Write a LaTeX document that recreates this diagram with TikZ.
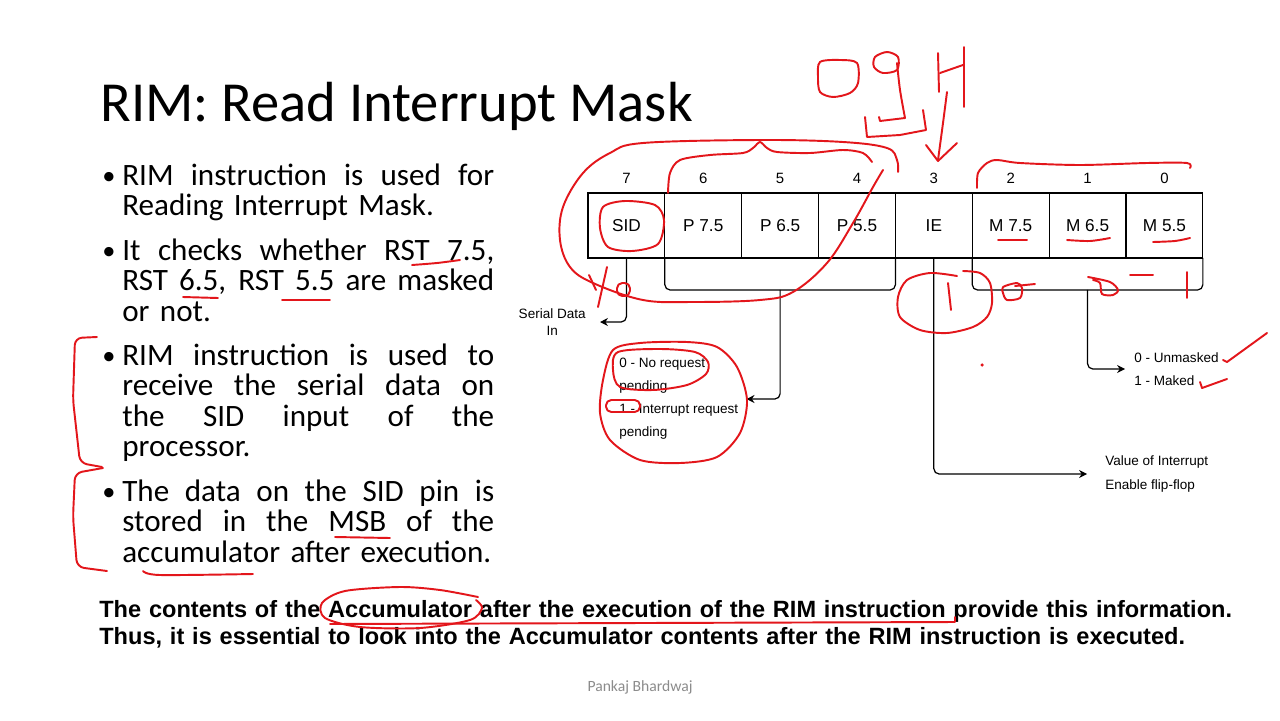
\documentclass[tikz,border=0pt]{standalone}
\usepackage{fontspec}
\setmainfont{Carlito}
\newfontfamily\arialf{Liberation Sans}
\usetikzlibrary{positioning,calc,arrows.meta}
\definecolor{inkred}{HTML}{E3161B}
\definecolor{footgray}{HTML}{8C8C8C}
\newcommand{\jline}[1]{\makebox[7.44cm][s]{\spaceskip=0.23em plus 3em\relax#1}}

\tikzset{
  cell/.style={draw, line width=0.7pt, minimum width=1.5375cm, minimum height=1.3cm,
    outer sep=0pt, inner sep=0pt, font=\arialf\fontsize{9.8}{11}\selectfont},
  bitno/.style={inner sep=0pt, font=\arialf\fontsize{8.5}{10}\selectfont},
  note/.style={inner sep=0pt, align=left, font=\arialf\fontsize{7.7}{13.1}\selectfont},
  wire/.style={line width=0.7pt, rounded corners=3pt},
  bul/.style={anchor=base west, inner sep=0pt, font=\fontsize{15}{17.4}\selectfont},
  item/.style={anchor=base west, inner sep=0pt, text width=7.44cm, align=left,
    font=\fontsize{17.7}{17.4}\selectfont},
  ink/.style={draw=inkred, line width=1.1pt, line cap=round, line join=round},
}

\begin{document}
\begin{tikzpicture}[x=0.02cm, y=-0.02cm, >={Stealth[length=4.5pt,width=4.5pt]}]
  \useasboundingbox (0,0) rectangle (1280,720);
  \fill[white] (0,0) rectangle (1280,720);

  % title and bullets
  \node[anchor=base west, inner sep=0pt, font=\fontsize{32.2}{40}\selectfont] (title) at (100,121) {RIM: Read Interrupt Mask};

  \node[bul] (d1) at (102,184) {•};
  \node[item] (t1) at (122,185) {\jline{RIM instruction is used for}\\Reading Interrupt Mask.};
  \node[bul] (d2) at (102,259) {•};
  \node[item] (t2) at (122,260) {\jline{It checks whether RST 7.5,}\\\jline{RST 6.5, RST 5.5 are masked}\\or not.};
  \node[bul] (d3) at (102,364) {•};
  \node[item] (t3) at (122,365) {\jline{RIM instruction is used to}\\\jline{receive the serial data on}\\\jline{the SID input of the}\\processor.};
  \node[bul] (d4) at (102,500) {•};
  \node[item] (t4) at (122,501) {\jline{The data on the SID pin is}\\\jline{stored in the MSB of the}\\accumulator after execution.};

  % register
  \node[cell] (sid) at (626.4,225.5) {SID};
  \node[cell, right=0pt of sid] (p75) {P 7.5};
  \node[cell, right=0pt of p75] (p65) {P 6.5};
  \node[cell, right=0pt of p65] (p55) {P 5.5};
  \node[cell, right=0pt of p55] (ie) {IE};
  \node[cell, right=0pt of ie] (m75) {M 7.5};
  \node[cell, right=0pt of m75] (m65) {M 6.5};
  \node[cell, right=0pt of m65] (m55) {M 5.5};

  \node[bitno, above=0.18cm of sid] (b7) {7};
  \node[bitno, above=0.18cm of p75] (b6) {6};
  \node[bitno, above=0.18cm of p65] (b5) {5};
  \node[bitno, above=0.18cm of p55] (b4) {4};
  \node[bitno, above=0.18cm of ie] (b3) {3};
  \node[bitno, above=0.18cm of m75] (b2) {2};
  \node[bitno, above=0.18cm of m65] (b1) {1};
  \node[bitno, above=0.18cm of m55] (b0) {0};

  % notes
  \node[note, align=center, anchor=east, font=\arialf\fontsize{7.7}{9.7}\selectfont] (serial) at (586,322) {Serial Data\\In};
  \node[note, anchor=west] (pend) at (619,399) {0 - No request\\pending\\1 - Interrupt request\\pending};
  \node[note, anchor=west] (mask) at (1134,369) {0 - Unmasked\\1 - Maked};
  \node[note, anchor=west] (iff) at (1105,474) {Value of Interrupt\\Enable flip-flop};

  % brackets and arrows
  \draw[wire] (p75.south west) -- ++(0,32) -| (p55.south east);
  \draw[wire] (m75.south west) -- ++(0,32) -| (m55.south east);
  \coordinate (pmid) at ($(p75.south west)!.5!(p55.south east)+(0,32)$);
  \coordinate (mmid) at ($(m75.south west)!.5!(m55.south east)+(0,32)$);
  \draw[wire, ->, shorten >=0.28cm] (sid.south) |- (serial.east);
  \draw[wire, ->, shorten >=0.16cm] (pmid) |- (pend.east);
  \draw[wire, ->, shorten >=0.18cm] (mmid) |- (mask.west);
  \draw[wire, ->, shorten >=0.36cm] (ie.south) |- (iff.west);

  % conclusion and footer
  \node[anchor=base west, inner sep=0pt, text width=24cm, align=left,
    font=\arialf\bfseries\fontsize{13.4}{15.9}\selectfont] (concl) at (99,617)
    {The contents of the Accumulator after the execution of the RIM instruction provide this information.\\
     Thus, it is essential to look into the Accumulator contents after the RIM instruction is executed.};
  \node[anchor=base, inner sep=0pt, text=footgray, font=\fontsize{8.9}{10}\selectfont] (foot) at (640,691) {Pankaj Bhardwaj};

  % pen marks
  \draw[ink] plot[smooth, tension=0.6] coordinates {(898,172) (897,160) (887,148) (843,142) (760,140) (643,143) (610,153) (583,173) (563,207) (560,240) (570,267) (593,283) (643,300) (693,302) (760,300) (793,292) (827,263) (853,223) (873,187) (883,170)};
  \draw[ink] plot[smooth] coordinates {(668,193) (670,173) (680,160) (710,155) (743,153) (753,148) (760,142) (767,148) (777,152) (810,153) (843,150) (863,153) (872,162)};
  \draw[ink] plot[smooth cycle] coordinates {(603,207) (625,201) (655,205) (664,220) (658,244) (632,251) (608,247) (600,228)};
  \draw[ink] (607,267) -- (598,307);
  \draw[ink] (589,275) -- (596,290);
  \draw[ink, rounded corners=3pt] (617,283) rectangle (630,296);

  \draw[ink] plot[smooth cycle] coordinates {(820,62) (840,60) (857,63) (858,83) (850,93) (833,97) (820,92) (818,77)};
  \draw[ink] plot[smooth cycle] coordinates {(875,57) (887,52) (898,57) (897,70) (883,73) (874,67)};
  \draw[ink] plot[smooth] coordinates {(897,63) (900,90) (905,118)} -- (880,121) -- (879,117);
  \draw[ink] (865,117) -- (867,137) -- (900,135) -- (926,130) -- (923,110);
  \draw[ink] (938,53) -- (939,92);
  \draw[ink] (940,73) -- (963,65);
  \draw[ink] (964,47) -- (964,107);
  \draw[ink] plot[smooth] coordinates {(947,92) (943,123) (938,160)};
  \draw[ink] (926,145) -- (938,161) -- (957,143);

  \draw[ink] plot[smooth] coordinates {(977,188) (978,173) (987,163) (997,160) (1020,163) (1080,165) (1147,163) (1187,163) (1190,168)};
  \draw[ink] (998,240) -- (1027,240);
  \draw[ink] plot[smooth] coordinates {(1067,240) (1090,241) (1110,238)};
  \draw[ink] plot[smooth] coordinates {(1153,242) (1175,241) (1190,238)};

  \draw[ink] plot[smooth] coordinates {(963,271) (980,273) (990,283) (992,303) (987,317) (973,327) (947,333) (920,330) (900,317) (898,297) (907,280) (930,273) (957,276)};
  \draw[ink] (948,283) -- (951,310);
  \draw[ink] plot[smooth cycle] coordinates {(1003,287) (1017,283) (1022,288) (1020,298) (1007,300) (1003,293)};
  \draw[ink] (1015,286) -- (1035,284);
  \draw[ink] plot[smooth] coordinates {(1088,277) (1110,282) (1118,290) (1113,295) (1102,294) (1100,283) (1093,280)};
  \draw[ink] (1130,275) -- (1153,275);
  \draw[ink] (1187,272) -- (1187,298);

  \draw[ink] plot[smooth cycle] coordinates {(613,350) (640,343) (687,342) (717,347) (737,367) (747,400) (740,433) (717,457) (680,463) (640,460) (610,440) (600,413) (603,380)};
  \draw[ink] plot[smooth cycle] coordinates {(618,352) (660,349) (695,352) (708,362) (706,374) (687,385) (653,390) (620,387) (613,370)};
  \draw[ink, rounded corners=3pt] (606,400) rectangle (640,412);

  \draw[ink] (1223,360) -- (1227,362) -- (1267,333);
  \draw[ink] (1200,382) -- (1202,388) -- (1227,379);
  \fill[inkred] (982,365) circle (1pt);

  \draw[ink, rounded corners=4pt] (97,337) -- (75,338) -- (73,400) -- (80,463) -- (102,467);
  \draw[ink, rounded corners=4pt] (103,468) -- (75,473) -- (73,517) -- (77,567) -- (107,571);
  \draw[ink] plot[smooth] coordinates {(412,265) (437,263) (460,260)};
  \draw[ink] (183,297) -- (218,298);
  \draw[ink] (282,300) -- (330,300);
  \draw[ink] (335,537) -- (390,538);
  \draw[ink] plot[smooth] coordinates {(143,571) (160,575) (253,574)};

  \draw[ink] plot[smooth] coordinates {(478,597) (440,590) (400,587) (345,591) (322,603) (325,618) (360,627) (420,628) (470,620) (482,608) (476,600)};
  \draw[ink] (330,624) -- (955,622) -- (955,617);
\end{tikzpicture}
\end{document}
